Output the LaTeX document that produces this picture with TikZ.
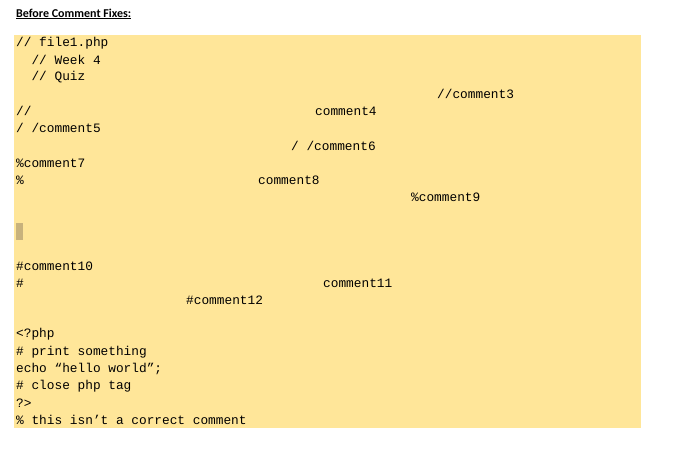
\documentclass[tikz,border=0pt]{standalone}
\usepackage{fontspec}
\setmainfont{Carlito}
\newfontfamily\codefont{Liberation Mono}
\definecolor{paper}{HTML}{FFE699}
\definecolor{tanmark}{HTML}{C8B27C}
\begin{document}
\begin{tikzpicture}[x=1pt,y=-1pt,
  code/.style={anchor=west,inner sep=0pt,font=\codefont\fontsize{12.8}{14}\selectfont}]
\useasboundingbox (0,0) rectangle (694,459);
\fill[paper] (14,35) rectangle (641,428);
\node[anchor=west,inner sep=0pt,font=\bfseries\fontsize{12}{14}\selectfont] (t) at (16,14) {\underline{Before Comment Fixes:}};
\node[code] (l1) at (16,43) {// file1.php};
\node[code] (l2) at (16,60) {\ \ // Week 4};
\node[code] (l3) at (16,77) {\ \ // Quiz};
\node[code] (c3) at (437,94) {//comment3};
\node[code] (l5) at (16,111) {//};
\node[code] (c4) at (315,111) {comment4};
\node[code] (c5) at (16,128) {/ /comment5};
\node[code] (c6) at (291,146) {/ /comment6};
\node[code] (c7) at (16,163) {\%comment7};
\node[code] (l9) at (16,180) {\%};
\node[code] (c8) at (258,180) {comment8};
\node[code] (c9) at (411,197) {\%comment9};
\fill[tanmark] (16,223) rectangle (23,240);
\node[code] (c10) at (16,266) {\#comment10};
\node[code] (l12) at (16,283) {\#};
\node[code] (c11) at (323,283) {comment11};
\node[code] (c12) at (186,300) {\#comment12};
\node[code] (p1) at (16,334) {<?php};
\node[code] (p2) at (16,352) {\# print something};
\node[code] (p3) at (16,369) {echo “hello world”;};
\node[code] (p4) at (16,386) {\# close php tag};
\node[code] (p5) at (16,403) {?>};
\node[code] (p6) at (16,420) {\% this isn’t a correct comment};
\end{tikzpicture}
\end{document}
